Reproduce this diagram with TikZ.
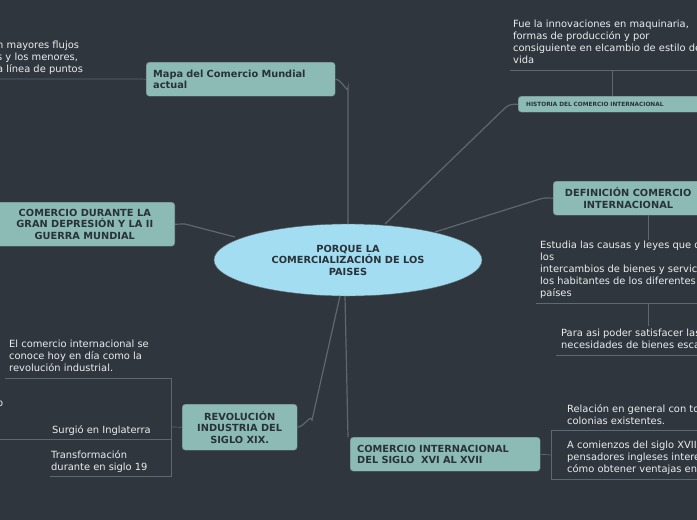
\documentclass[tikz,border=0pt]{standalone}
\usepackage{fontspec}
\setmainfont{DejaVu Sans}
\usetikzlibrary{shapes.geometric}
\definecolor{bg}{RGB}{47,54,61}
\definecolor{boxc}{RGB}{140,186,180}
\definecolor{ell}{RGB}{163,221,242}
\definecolor{txt}{RGB}{235,238,238}
\definecolor{dark}{RGB}{40,50,56}
\definecolor{ln}{RGB}{95,104,110}
\begin{document}
\begin{tikzpicture}[x=1pt,y=-1pt,
  box/.style={draw=ln,fill=boxc,rounded corners=3pt,font=\fontsize{9.8}{11.5}\selectfont\bfseries,text=dark,inner sep=0pt},
  tx/.style={anchor=north west,align=left,text=txt,font=\fontsize{9.9}{12}\selectfont,inner sep=0pt},
  con/.style={draw=ln,line width=1.2pt},
  thin/.style={draw=ln,line width=0.7pt}]
\useasboundingbox[fill=bg] (0,0) rectangle (697,520);
% center
\node[ellipse,fill=ell,draw=ln,minimum width=268pt,minimum height=72pt,font=\fontsize{9.8}{11.5}\selectfont\bfseries,text=dark,align=center,inner sep=0pt] (c) at (348,260) {PORQUE LA\\COMERCIALIZACIÓN DE LOS\\PAISES};
% boxes
\node[box,minimum width=189pt,minimum height=34pt,align=left,anchor=north west,text width=189pt] (mapa) at (146,62) {\hspace*{7pt}Mapa del Comercio Mundial\\\hspace*{7pt}actual};
\node[box,minimum width=185pt,minimum height=16pt,anchor=north west,font=\fontsize{5.8}{7}\selectfont\bfseries,align=left,text width=185pt] (hist) at (518,96) {\hspace*{8pt}HISTORIA DEL COMERCIO INTERNACIONAL};
\node[box,minimum width=150pt,minimum height=34pt,anchor=north west,align=center] (def) at (553,181) {DEFINICIÓN COMERCIO\\INTERNACIONAL};
\node[box,minimum width=180pt,minimum height=44pt,anchor=north east,align=center] (dur) at (175,202) {COMERCIO DURANTE LA\\GRAN DEPRESIÓN Y LA II\\GUERRA MUNDIAL};
\node[box,minimum width=115pt,minimum height=46pt,anchor=north west,align=center] (rev) at (182,404) {REVOLUCIÓN\\INDUSTRIA DEL\\SIGLO XIX.};
\node[box,minimum width=190pt,minimum height=34pt,anchor=north west,align=left,text width=190pt] (ci) at (350,437) {\hspace*{7pt}COMERCIO INTERNACIONAL\\\hspace*{7pt}DEL SIGLO\ \ XVI AL XVII};
% connectors from center
\coordinate (c1) at (348,224);
\draw[con] (c1) -- (348,88) to[out=-90,in=0] (mapa.east);
\coordinate (c2) at (385,224);
\draw[con] (c2) -- (505,108) to[out=45,in=180] (hist.west);
\coordinate (c3) at (435,232);
\draw[con] (c3) -- (540,199) to[out=20,in=180] (def.west);
\coordinate (c4) at (235,237);
\draw[con] (c4) -- (185,224) -- (dur.east);
\coordinate (c5) at (340,296);
\draw[con] (c5) -- (312,420) to[out=100,in=0] (rev.east);
\coordinate (c6) at (345,296);
\draw[con] (c6) -- (348,437);
% Mapa leaf
\node[tx] (t1) at (-3,41) {n mayores flujos\\s y los menores,\\a línea de puntos};
\coordinate (m1) at (0,79);\coordinate (m2) at (140,79);
\draw[thin] (m1) -- (m2) to[out=0,in=180] (mapa.west);
% Historia leaf
\node[tx] (t2) at (513,20) {Fue la innovaciones en maquinaria,\\formas de producción y por\\consiguiente en elcambio de estilo de\\vida};
\coordinate (h1) at (510,70);\coordinate (h2) at (697,70);\coordinate (h3) at (612,70);\coordinate (h4) at (612,96);
\draw[thin] (h1) -- (h2); \draw[thin] (h3) -- (h4);
% Definicion leaves
\node[tx] (t3) at (540,241) {Estudia las causas y leyes que definen\\los\\intercambios de bienes y servicios entre\\los habitantes de los diferentes\\países};
\coordinate (d1) at (648,215);\coordinate (d2) at (648,240);
\draw[thin] (d1) -- (d2);
\coordinate (d3) at (536,303);\coordinate (d4) at (697,303);
\draw[thin] (d3) -- (d4);
\coordinate (d5) at (648,303);\coordinate (d6) at (648,326);
\draw[thin] (d5) -- (d6);
\node[tx] (t4) at (561,329) {Para asi poder satisfacer las\\necesidades de bienes escasos};
\coordinate (d7) at (556,355);\coordinate (d8) at (697,355);
\draw[thin] (d7) -- (d8);
% Revolucion leaves
\node[tx] (t5) at (9,340) {El comercio internacional se\\conoce hoy en día como la\\revolución industrial.};
\node[tx] (t6) at (-3,401) {o};
\node[tx] (t7) at (52,425) {Surgió en Inglaterra};
\node[tx] (t8) at (51,450) {Transformación\\durante en siglo 19};
\coordinate (r1) at (5,378);\coordinate (r2) at (171,378);
\coordinate (r3) at (0,439);\coordinate (r4) at (171,439);
\coordinate (r5) at (50,476);\coordinate (r6) at (171,476);
\coordinate (r7) at (171,427);
\draw[thin] (r1) -- (r2) -- (r6) -- (r5);
\draw[thin] (r3) -- (r4);
\draw[thin] (rev.west) -- (r7);
% Comercio internacional leaves
\node[tx] (t9) at (567,404) {Relación en general con todas las\\colonias existentes.};
\node[tx] (t10) at (567,441) {A comienzos del siglo XVII, los\\pensadores ingleses interesados en\\cómo obtener ventajas en el comercio};
\coordinate (k1) at (697,430);\coordinate (k2) at (551,430);
\coordinate (k3) at (551,479);\coordinate (k4) at (697,479);
\coordinate (k5) at (551,455);
\draw[thin] (k1) -- (k2) -- (k3) -- (k4);
\draw[thin] (ci.east) -- (k5);
\end{tikzpicture}
\end{document}
